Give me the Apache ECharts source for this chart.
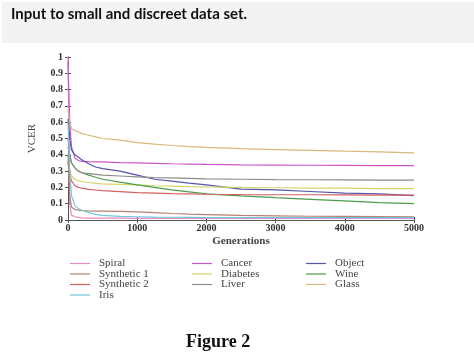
<!DOCTYPE html>
<html><head><meta charset="utf-8">
<script src="https://cdn.jsdelivr.net/npm/echarts@6/dist/echarts.min.js"></script>
<style>html,body{margin:0;padding:0;background:#fff}#c{width:474px;height:353px}</style>
</head><body><div id="c"></div>
<script>
const gens = [0, 25, 50, 100, 150, 200, 300, 400, 500, 750, 1000, 1250, 1500, 1750, 2000, 2500, 3000, 3500, 4000, 4500, 5000];
const spiral = [1.0, 0.1, 0.03, 0.02, 0.016, 0.013, 0.012, 0.012, 0.011, 0.011, 0.01, 0.01, 0.01, 0.01, 0.01, 0.01, 0.01, 0.01, 0.01, 0.01, 0.01];
const cancer = [0.97, 0.6, 0.45, 0.38, 0.365, 0.36, 0.358, 0.357, 0.356, 0.352, 0.35, 0.348, 0.345, 0.343, 0.341, 0.338, 0.337, 0.336, 0.335, 0.334, 0.333];
const object = [0.62, 0.5, 0.43, 0.4, 0.385, 0.37, 0.345, 0.325, 0.315, 0.3, 0.275, 0.25, 0.238, 0.226, 0.215, 0.19, 0.185, 0.175, 0.165, 0.16, 0.15];
const synthetic1 = [0.4, 0.15, 0.08, 0.065, 0.06, 0.058, 0.056, 0.055, 0.055, 0.053, 0.05, 0.045, 0.04, 0.036, 0.033, 0.028, 0.025, 0.023, 0.022, 0.021, 0.02];
const diabetes = [0.35, 0.3, 0.27, 0.25, 0.24, 0.235, 0.23, 0.225, 0.222, 0.218, 0.215, 0.21, 0.208, 0.205, 0.203, 0.2, 0.198, 0.196, 0.195, 0.193, 0.192];
const wine = [0.45, 0.4, 0.35, 0.32, 0.3, 0.29, 0.275, 0.262, 0.25, 0.232, 0.215, 0.2, 0.185, 0.172, 0.16, 0.148, 0.137, 0.127, 0.117, 0.107, 0.1];
const synthetic2 = [0.36, 0.28, 0.24, 0.21, 0.2, 0.195, 0.188, 0.184, 0.18, 0.174, 0.168, 0.165, 0.162, 0.16, 0.158, 0.156, 0.155, 0.155, 0.154, 0.153, 0.153];
const liver = [0.5, 0.4, 0.35, 0.32, 0.3, 0.29, 0.285, 0.28, 0.275, 0.27, 0.265, 0.26, 0.258, 0.255, 0.252, 0.25, 0.248, 0.247, 0.246, 0.245, 0.245];
const glass = [0.68, 0.6, 0.56, 0.55, 0.54, 0.53, 0.52, 0.51, 0.5, 0.49, 0.475, 0.465, 0.457, 0.45, 0.445, 0.438, 0.432, 0.427, 0.422, 0.418, 0.412];
const iris = [0.6, 0.3, 0.15, 0.09, 0.07, 0.06, 0.045, 0.035, 0.028, 0.022, 0.02, 0.018, 0.017, 0.016, 0.015, 0.015, 0.015, 0.014, 0.014, 0.014, 0.014];

const seriesDefs = [
  ['Spiral', spiral, '#e889c4'],
  ['Cancer', cancer, '#cc55cc'],
  ['Object', object, '#5555aa'],
  ['Synthetic 1', synthetic1, '#b88070'],
  ['Diabetes', diabetes, '#d6d66a'],
  ['Wine', wine, '#4c9c4c'],
  ['Synthetic 2', synthetic2, '#d46060'],
  ['Liver', liver, '#8c8c8c'],
  ['Glass', glass, '#d9b87a'],
  ['Iris', iris, '#70c8dc']
];
const yTicks = [0, 0.1, 0.2, 0.3, 0.4, 0.5, 0.6, 0.7, 0.8, 0.9, 1];
const xTicks = [0, 1000, 2000, 3000, 4000, 5000];

const chart = echarts.init(document.getElementById('c'), null, {renderer: 'canvas'});
const serif = 'Liberation Serif';
const axisLine = {show: true, lineStyle: {color: '#555', width: 1}};
const legendBase = {
  orient: 'vertical', top: 258, itemWidth: 20, itemHeight: 1.2, itemGap: -0.5, icon: 'rect',
  textStyle: {fontFamily: serif, fontSize: 11, color: '#444', lineHeight: 10, padding: [0, 0, 0, 4]},
  padding: 0
};
chart.setOption({
  animation: false,
  graphic: [
    {type: 'rect', shape: {x: 2, y: 2, width: 472, height: 41}, style: {fill: '#f3f3f3'}},
    {type: 'text', left: 11, top: 7, style: {text: 'Input to small and discreet data set.', font: 'bold 15px Lato', fill: '#111'}},
    {type: 'text', left: 186, top: 333, style: {text: 'Figure 2', font: 'bold 18px "Liberation Serif"', fill: '#111'}}
  ],
  grid: {left: 68, right: 60, top: 57, bottom: 133},
  legend: [
    Object.assign({}, legendBase, {left: 70, data: ['Spiral', 'Synthetic 1', 'Synthetic 2', 'Iris']}),
    Object.assign({}, legendBase, {left: 192, data: ['Cancer', 'Diabetes', 'Liver']}),
    Object.assign({}, legendBase, {left: 306, data: ['Object', 'Wine', 'Glass']})
  ],
  xAxis: [
    {type: 'value', min: 0, max: 5000, interval: 1000, position: 'bottom',
     name: 'Generations', nameLocation: 'middle', nameGap: 16,
     nameTextStyle: {fontFamily: serif, fontSize: 11, fontWeight: 'bold', color: '#444'},
     axisLine: axisLine, axisTick: {show: true, inside: true, length: 3, lineStyle: {color: '#555'}},
     axisLabel: {fontFamily: serif, fontSize: 10, fontWeight: 'bold', color: '#333', margin: 3,
       formatter: v => String(v)},
     splitLine: {show: false}},
    {type: 'value', min: 0, max: 5000, interval: 1000, position: 'top',
     axisLine: axisLine, axisTick: {show: true, inside: true, length: 3, lineStyle: {color: '#555'}},
     axisLabel: {show: false}, splitLine: {show: false}}
  ],
  yAxis: [
    {type: 'value', min: 0, max: 1, interval: 0.1, position: 'left',
     name: 'VCER', nameLocation: 'middle', nameGap: 30,
     nameTextStyle: {fontFamily: serif, fontSize: 11, color: '#444'},
     axisLine: axisLine, axisTick: {show: true, inside: true, length: 3, lineStyle: {color: '#555'}},
     axisLabel: {fontFamily: serif, fontSize: 10, fontWeight: 'bold', color: '#333', margin: 5,
       formatter: v => String(Math.round(v * 10) / 10)},
     splitLine: {show: false}},
    {type: 'value', min: 0, max: 1, interval: 0.1, position: 'right',
     axisLine: axisLine, axisTick: {show: true, inside: true, length: 3, lineStyle: {color: '#555'}},
     axisLabel: {show: false}, splitLine: {show: false}}
  ],
  series: seriesDefs.map(([name, vals, color]) => ({
    name: name, type: 'line', xAxisIndex: 0, yAxisIndex: 0,
    data: gens.map((g, i) => [g, vals[i]]),
    symbol: 'none', showSymbol: false, smooth: false,
    lineStyle: {width: 1.2, color: color}, itemStyle: {color: color}
  }))
});
</script></body></html>
